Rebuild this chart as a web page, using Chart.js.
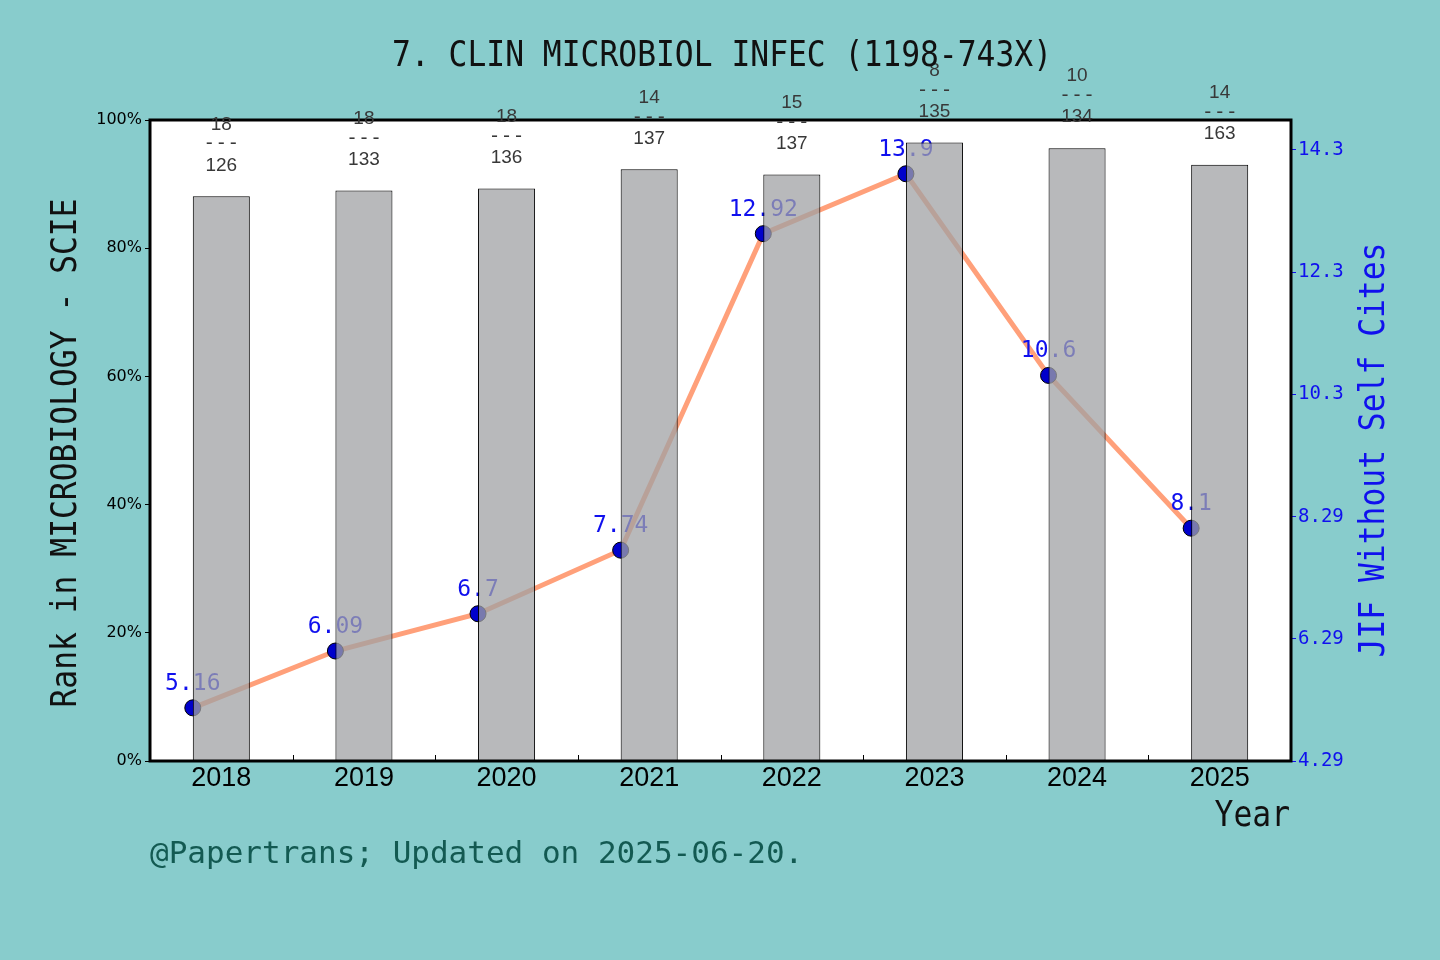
<!DOCTYPE html>
<html>
<head>
<meta charset="utf-8">
<title>7. CLIN MICROBIOL INFEC (1198-743X)</title>
<script src="https://cdn.jsdelivr.net/npm/chart.js@4.4.1/dist/chart.umd.min.js"></script>
<style>
    html, body { margin: 0; padding: 0; background: #88cccc; }
    #wrap { width: 1440px; height: 960px; }
</style>
</head>
<body>
<div id="wrap"><canvas id="rankChart"></canvas></div>
<script>
// Data
const years = ['2018', '2019', '2020', '2021', '2022', '2023', '2024', '2025'];
const rankPercent = [88.1, 89.0, 89.3, 92.3, 91.5, 96.5, 95.6, 93.0];
const rankInCategory = [18, 18, 18, 14, 15, 8, 10, 14];
const journalsInCategory = [126, 133, 136, 137, 137, 135, 134, 163];
const jifWithoutSelf = [5.16, 6.09, 6.7, 7.74, 12.92, 13.9, 10.6, 8.1];
const rankTicks = [0, 20, 40, 60, 80, 100];
const jifTicks = [4.29, 6.29, 8.29, 10.29, 12.29, 14.29];

const BG = '#88cccc';
const BLUE = '#1010ee';
const MONO = '"DejaVu Sans Mono", monospace';
const barShare = 0.4; // bar width as part of the category

// Tall, narrow text (like the original heading font)
function narrowText(ctx, text, x, y, angle) {
    ctx.save();
    ctx.translate(x, y);
    if (angle) ctx.rotate(angle);
    ctx.scale(0.87, 1);
    ctx.fillText(text, 0, 0);
    ctx.restore();
}

// Background, white plot area
const backgroundPlugin = {
    id: 'background',
    beforeDraw(chart) {
        const ctx = chart.ctx;
        const a = chart.chartArea;
        ctx.save();
        ctx.fillStyle = BG;
        ctx.fillRect(0, 0, chart.width, chart.height);
        ctx.fillStyle = '#ffffff';
        ctx.fillRect(a.left, a.top, a.right - a.left, a.bottom - a.top);
        ctx.restore();
    }
};

// JIF labels drawn right after the line, so the bars cover them a bit
const jifLabelPlugin = {
    id: 'jifLabels',
    afterDatasetDraw(chart, args) {
        if (args.index !== 1) return;
        const ctx = chart.ctx;
        ctx.save();
        ctx.font = '23px ' + MONO;
        ctx.fillStyle = BLUE;
        ctx.textAlign = 'center';
        ctx.textBaseline = 'middle';
        args.meta.data.forEach(function(pt, i) {
            ctx.fillText(String(jifWithoutSelf[i]), pt.x, pt.y - 24);
        });
        ctx.restore();
    }
};

// Frame, inner ticks and the rank / total labels over the bars
const overlayPlugin = {
    id: 'overlay',
    afterDatasetsDraw(chart) {
        const ctx = chart.ctx;
        const a = chart.chartArea;
        const xs = chart.scales.x;
        ctx.save();
        ctx.strokeStyle = '#000';
        ctx.lineWidth = 3;
        ctx.strokeRect(a.left, a.top, a.right - a.left, a.bottom - a.top);

        // small ticks between the years, pointing inwards
        ctx.lineWidth = 1;
        for (let i = 1; i < years.length; i++) {
            const x = Math.round((xs.getPixelForValue(i - 1) + xs.getPixelForValue(i)) / 2) + 0.5;
            ctx.beginPath();
            ctx.moveTo(x, a.bottom);
            ctx.lineTo(x, a.bottom - 6);
            ctx.stroke();
        }

        const bars = chart.getDatasetMeta(0).data;
        ctx.fillStyle = '#383838';
        ctx.textAlign = 'center';
        ctx.textBaseline = 'middle';
        bars.forEach(function(bar, i) {
            ctx.font = '19px "Liberation Sans", sans-serif';
            ctx.fillText(String(rankInCategory[i]), bar.x, bar.y - 72);
            ctx.fillText(String(journalsInCategory[i]), bar.x, bar.y - 31);
            ctx.font = '20px ' + MONO;
            ctx.fillText('---', bar.x, bar.y - 52);
        });
        ctx.restore();
    },
    afterDraw(chart) {
        const ctx = chart.ctx;
        ctx.save();
        ctx.textBaseline = 'middle';

        // title
        ctx.fillStyle = '#111';
        ctx.textAlign = 'center';
        ctx.font = '36px ' + MONO;
        narrowText(ctx, '7. CLIN MICROBIOL INFEC (1198-743X)', chart.width / 2 + 2, 57);

        // axis names
        narrowText(ctx, 'Rank in MICROBIOLOGY - SCIE', 67, 453, -Math.PI / 2);
        ctx.textAlign = 'right';
        narrowText(ctx, 'Year', 1290, 817);
        ctx.textAlign = 'center';
        ctx.fillStyle = BLUE;
        narrowText(ctx, 'JIF Without Self Cites', 1375, 450, -Math.PI / 2);

        // watermark
        ctx.fillStyle = '#135a52';
        ctx.textAlign = 'left';
        ctx.font = '31px ' + MONO;
        ctx.fillText('@Papertrans; Updated on 2025-06-20.', 150, 855);

        ctx.restore();
    }
};

function initRankChart() {
    const chartElement = document.getElementById('rankChart');
    if (!chartElement) {
        console.log('Chart element not found');
        return;
    }

    new Chart(chartElement, {
        type: 'bar',
        data: {
            labels: years,
            datasets: [{
                type: 'bar',
                label: 'Rank',
                data: rankPercent,
                xAxisID: 'x',
                yAxisID: 'y',
                backgroundColor: 'rgba(160, 161, 164, 0.75)',
                borderColor: '#000000',
                borderWidth: 1,
                barPercentage: barShare,
                categoryPercentage: 1.0,
                grouped: false,
                order: 0
            }, {
                type: 'line',
                label: 'JIF Without Self Cites',
                // points sit on the left edge of each bar
                data: jifWithoutSelf.map((v, i) => ({ x: i - barShare / 2, y: v })),
                xAxisID: 'xLine',
                yAxisID: 'y1',
                borderColor: '#ffa07a',
                borderWidth: 5,
                pointRadius: 8,
                pointBackgroundColor: '#0000cc',
                pointBorderColor: '#000000',
                pointBorderWidth: 1,
                tension: 0,
                clip: false,
                order: 1
            }]
        },
        options: {
            responsive: true,
            maintainAspectRatio: false,
            animation: false,
            layout: { padding: { top: 120, left: 0, right: 0, bottom: 0 } },
            plugins: {
                legend: { display: false },
                tooltip: { enabled: false },
                title: { display: false }
            },
            scales: {
                x: {
                    type: 'category',
                    offset: true,
                    grid: { display: false },
                    border: { display: false },
                    ticks: {
                        color: '#000',
                        padding: -7,
                        maxRotation: 0,
                        font: { family: '"Liberation Sans", sans-serif', size: 27 }
                    },
                    afterFit: function(scale) { scale.height = 199; }
                },
                xLine: {
                    type: 'linear',
                    display: false,
                    offset: false,
                    grid: { offset: false },
                    min: -0.5,
                    max: years.length - 0.5
                },
                y: {
                    position: 'left',
                    min: 0,
                    max: 100,
                    afterBuildTicks: function(scale) {
                        scale.ticks = rankTicks.map(v => ({ value: v }));
                    },
                    grid: { drawOnChartArea: false, tickLength: 5, color: '#000' },
                    border: { display: false },
                    ticks: {
                        color: '#000',
                        padding: 3,
                        font: { family: '"DejaVu Sans", sans-serif', size: 16 },
                        callback: v => v + '%'
                    },
                    afterFit: function(scale) { scale.width = 150; }
                },
                y1: {
                    position: 'right',
                    min: 4.29,
                    max: 14.78,
                    afterBuildTicks: function(scale) {
                        scale.ticks = jifTicks.map(v => ({ value: v }));
                    },
                    grid: { drawOnChartArea: false, tickLength: 5, color: BLUE },
                    border: { display: false },
                    ticks: {
                        color: BLUE,
                        padding: 2,
                        font: { family: MONO, size: 19 },
                        callback: v => Number(v).toPrecision(3)
                    },
                    afterFit: function(scale) { scale.width = 149; }
                }
            }
        },
        plugins: [backgroundPlugin, jifLabelPlugin, overlayPlugin]
    });
}

if (document.readyState === 'loading') {
    document.addEventListener('DOMContentLoaded', initRankChart);
} else {
    initRankChart();
}
</script>
</body>
</html>
